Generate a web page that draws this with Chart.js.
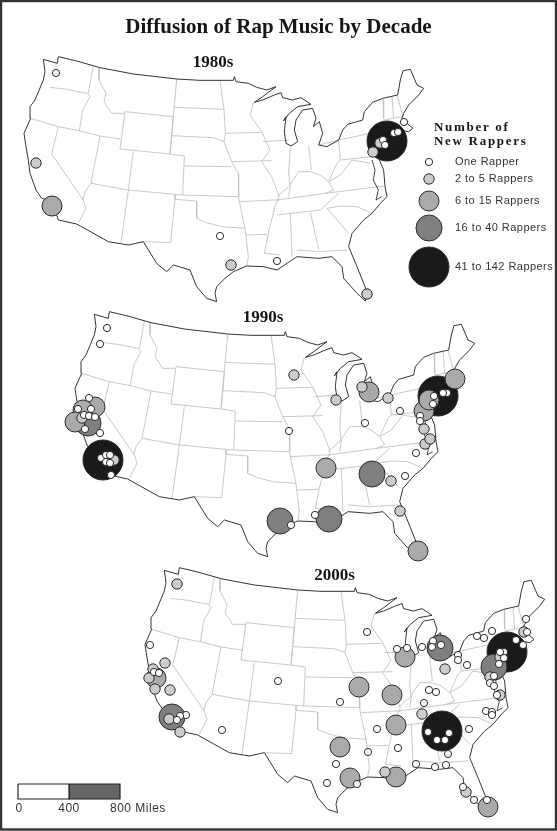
<!DOCTYPE html>
<html><head><meta charset="utf-8">
<style>html,body{margin:0;padding:0;background:#fff}canvas{display:block}</style>
<script src="https://cdn.jsdelivr.net/npm/chart.js@4"></script>
</head><body><canvas id="c" width="557" height="831"></canvas>
<script>
const chartTitle = 'Diffusion of Rap Music by Decade';
const decades = ['1980s','1990s','2000s'];
const classLabels = ['One Rapper','2 to 5 Rappers','6 to 15 Rappers','16 to 40 Rappers','41 to 142 Rappers'];
const classRadius = [3.6,5.2,10,13,20];
const classColor = ['#ffffff','#cccccc','#aaaaaa','#7f7f7f','#1a1a1a'];
const scaleLabels = ['0','400','800 Miles'];

// Map outlines at 3x the 1980s panel
const nationOutline = [[175,170],[230,183],[300,203],[400,222],[530,237],[600,241],[700,241],[703,230],[708,245],[745,250],[770,262],[800,270],[828,260],[788,290],[763,307],[788,300],[823,285],[843,278],[848,293],[878,300],[903,293],[933,313],[893,320],[868,340],[850,363],[858,350],[853,395],[858,430],[873,438],[893,425],[883,390],[888,360],[908,330],[938,325],[948,355],[940,380],[958,365],[968,400],[956,435],[981,440],[1016,420],[1028,390],[1043,373],[1088,360],[1093,335],[1118,307],[1148,295],[1193,285],[1201,240],[1209,212],[1231,208],[1251,255],[1271,265],[1256,285],[1226,315],[1211,340],[1206,355],[1221,370],[1239,385],[1226,395],[1201,390],[1171,410],[1151,425],[1153,455],[1156,480],[1136,475],[1151,510],[1155,560],[1161,590],[1141,610],[1116,640],[1091,660],[1056,700],[1046,740],[1071,800],[1099,870],[1096,903],[1071,880],[1031,835],[1026,800],[996,770],[956,775],[891,770],[861,790],[831,810],[790,800],[740,798],[700,815],[675,835],[650,860],[645,880],[650,905],[620,895],[590,860],[570,810],[520,795],[500,815],[470,790],[430,725],[385,735],[325,725],[230,672],[175,660],[170,645],[160,605],[125,595],[108,570],[90,520],[85,480],[78,440],[72,400],[92,355],[90,320],[105,300],[130,240],[135,215],[130,178],[172,190],[175,170]];
const chesapeake = [[1116,480],[1125,510],[1120,540],[1135,570],[1128,600],[1145,590]];
const stateBorders = [
 [[150,262],[200,268],[262,280],[270,290],[248,330],[238,392]],
 [[280,198],[265,280]],
 [[298,205],[297,240],[318,280],[312,305],[335,340],[373,340]],
 [[92,355],[175,380],[238,392],[300,408],[362,417]],
 [[175,380],[155,462],[250,600],[258,625],[235,670]],
 [[300,408],[273,550],[255,575],[248,600]],
 [[273,550],[385,570],[547,585],[715,590]],
 [[375,335],[360,447],[510,462],[520,350],[375,335]],
 [[530,237],[520,350],[510,462]],
 [[522,322],[670,328]],
 [[515,407],[640,413],[672,425]],
 [[510,462],[553,468],[548,585]],
 [[553,498],[695,500]],
 [[400,455],[385,570],[363,730]],
 [[525,585],[525,598],[512,728],[430,725]],
 [[525,598],[590,603],[590,655],[620,668],[665,680],[735,685]],
 [[660,240],[672,328],[676,400],[672,425],[695,485],[715,520],[716,590],[718,605],[735,685],[745,770],[740,798]],
 [[676,400],[785,397]],
 [[695,485],[815,482]],
 [[718,605],[820,600],[838,600]],
 [[735,705],[800,703]],
 [[760,308],[750,345],[785,395],[810,450],[785,485],[815,530],[838,590],[825,620],[805,700],[793,760],[840,765]],
 [[790,425],[866,420]],
 [[871,440],[866,520],[871,560],[866,590]],
 [[926,437],[934,510]],
 [[831,590],[866,560],[896,515],[931,515],[961,525],[986,545],[1011,490],[1021,480]],
 [[956,435],[1016,420],[1021,480],[1116,470]],
 [[831,600],[976,580],[1151,558]],
 [[986,545],[1001,570],[976,580]],
 [[986,545],[1021,525],[1056,480],[1111,490]],
 [[831,645],[961,630],[1016,580]],
 [[981,625],[1021,618],[1071,620],[1116,640]],
 [[981,625],[1046,700]],
 [[931,635],[956,750]],
 [[891,750],[956,755],[1041,750]],
 [[871,640],[876,770]],
 [[1016,420],[1111,400]],
 [[1149,298],[1151,355]],
 [[1176,290],[1181,355]],
 [[1191,285],[1209,350]],
 [[1151,360],[1206,350]],
 [[1111,400],[1151,395],[1150,425]]
];

// Panel shift in pixels from the 1980s map
const panelShift = [[0,0],[51,255],[121,511]];

// Sites: [x, y, size class] in page pixels
const sites1980 = [[56,73,0],[220,236,0],[277,261,0],[404,122,0],[383,140,0],[385,145,0],[394,133,0],[398,132,0],
 [36,163,1],[231,265,1],[373,152,1],[367,294,1],[380,143,1],
 [52,206,2],[387,141,4]];
const sites1990 = [[107,328,0],[100,344,0],[89,398,0],[100,433,0],[78,409,0],[91,409,0],[84,415,0],[89,416,0],[95,417,0],[85,429,0],
 [101,458,0],[106,455,0],[110,455,0],[106,462,0],[110,463,0],[111,475,0],
 [289,431,0],[365,423,0],[400,411,0],[416,453,0],[405,476,0],[315,515,0],[291,525,0],[447,393,0],[443,393,0],[434,396,0],[433,404,0],[420,416,0],[420,421,0],
 [114,460,1],[82,418,1],[294,375,1],[336,400,1],[362,387,1],[388,398,1],[424,429,1],[425,444,1],[430,439,1],[391,481,1],[400,511,1],
 [95,407,2],[83,410,2],[75,422,2],[369,392,2],[326,468,2],[455,379,2],[424,411,2],[418,551,2],[429,400,2],
 [88,423,3],[372,474,3],[329,519,3],[280,521,3],
 [103,460,4],[438,396,4]];
const sites2000 = [[150,645,0],[154,672,0],[159,673,0],[186,715,0],[180,716,0],[177,720,0],[222,730,0],[278,681,0],
 [367,632,0],[397,649,0],[407,648,0],[422,647,0],[433,641,0],[432,647,0],[441,645,0],[458,655,0],[458,660,0],[467,665,0],[477,636,0],[484,638,0],[492,631,0],[526,619,0],[527,632,0],[516,640,0],[523,645,0],[504,652,0],[500,652,0],[504,658,0],[499,664,0],[494,676,0],[490,683,0],[494,686,0],[497,695,0],[486,711,0],[492,712,0],[492,715,0],[429,690,0],[436,692,0],[424,703,0],[340,702,0],[377,729,0],[428,732,0],[437,740,0],[445,740,0],[449,733,0],[469,729,0],[448,754,0],[398,748,0],[368,752,0],[336,764,0],[327,783,0],[357,784,0],[416,764,0],[435,767,0],[446,765,0],[463,787,0],[474,800,0],[487,800,0],
 [177,584,1],[153,669,1],[165,663,1],[149,678,1],[155,689,1],[170,690,1],[169,719,1],[180,732,1],[445,669,1],[422,714,1],[385,772,1],[466,792,1],[500,695,1],[490,677,1],[524,632,1],[500,657,1],
 [156,678,2],[359,687,2],[392,695,2],[405,657,2],[396,725,2],[340,747,2],[350,778,2],[396,777,2],[488,807,2],
 [172,717,3],[440,648,3],[494,667,3],
 [507,652,4],[442,731,4]];
const legendSites = [[429,162,0],[429,179,1],[429,201,2],[429,228,3],[429,267,4]];

const allSites = [...sites1980,...sites1990,...sites2000,...legendSites];
const toPoint = (p,s)=>({x:p[0]/3+s[0],y:p[1]/3+s[1]});
const lineSet = (pts,color,width,order)=>({type:'scatter',showLine:true,data:pts,borderColor:color,borderWidth:width,pointRadius:0,tension:0,order,clip:false});

const datasets = [];
classLabels.forEach((label,c)=>{
  datasets.push({type:'bubble',label,order:c,clip:false,
    data:allSites.filter(s=>s[2]===c).map(s=>({x:s[0],y:s[1],r:classRadius[c]})),
    backgroundColor:classColor[c],borderColor:'#2a2a2a',borderWidth:1,hoverRadius:0});
});
panelShift.forEach(s=>{
  datasets.push(lineSet(nationOutline.map(p=>toPoint(p,s)),'#333333',1,20));
  datasets.push(lineSet(chesapeake.map(p=>toPoint(p,s)),'#333333',0.9,20));
  stateBorders.forEach(b=>datasets.push(lineSet(b.map(p=>toPoint(p,s)),'#c2c2c2',0.9,30)));
});
// scale bar
const scaleBarMiles=[[18,69],[69,120]], scaleBarColor=['#ffffff','#666666'];
scaleBarMiles.forEach((r,i)=>{
  datasets.push({type:'scatter',showLine:true,fill:'shape',backgroundColor:scaleBarColor[i],borderColor:'#222',borderWidth:1.2,pointRadius:0,order:10,clip:false,
   data:[{x:r[0],y:784},{x:r[1],y:784},{x:r[1],y:799},{x:r[0],y:799},{x:r[0],y:784}]});
});

const decadeLabelPos=[[213,63],[263,318],[334.5,576]];
const legendTitlePos=[['Number of',434,128],['New Rappers',434,142]];
const legendRowX=455, legendRowY=[162,179,201,228,267];
const scaleLabelPos=[[19,'center'],[69,'center'],[110,'left']];

const texts={id:'texts',afterDraw(ch){
  const {ctx,scales:{x,y}}=ch;
  ctx.save();
  ctx.strokeStyle='#333';ctx.lineWidth=2.4;ctx.strokeRect(1,1,555,828.5);
  ctx.fillStyle='#161616';ctx.textBaseline='middle';
  ctx.textAlign='center';ctx.font='bold 17px "Liberation Serif"';
  decades.forEach((d,i)=>ctx.fillText(d,x.getPixelForValue(decadeLabelPos[i][0]),y.getPixelForValue(decadeLabelPos[i][1])));
  ctx.textAlign='left';ctx.font='bold 13px "Liberation Serif"';ctx.letterSpacing='1.7px';
  legendTitlePos.forEach(t=>ctx.fillText(t[0],x.getPixelForValue(t[1]),y.getPixelForValue(t[2])));
  ctx.font='11px "Liberation Sans"';ctx.letterSpacing='0.45px';ctx.fillStyle='#333';
  classLabels.forEach((l,i)=>ctx.fillText(l,x.getPixelForValue(legendRowX),y.getPixelForValue(legendRowY[i])));
  ctx.font='12px "Liberation Sans"';ctx.letterSpacing='0.5px';
  scaleLabels.forEach((l,i)=>{ctx.textAlign=scaleLabelPos[i][1];ctx.fillText(l,x.getPixelForValue(scaleLabelPos[i][0]),y.getPixelForValue(809));});
  ctx.restore();
}};

new Chart(document.getElementById('c'),{
  type:'scatter',
  data:{datasets},
  plugins:[texts],
  options:{responsive:false,animation:false,events:[],
    layout:{padding:0,autoPadding:false},
    plugins:{legend:{display:false},tooltip:{enabled:false},
      title:{display:true,text:chartTitle,color:'#161616',font:{family:'"Liberation Serif"',size:21,weight:'bold',lineHeight:1.2},padding:{top:15,bottom:3.8}}},
    scales:{x:{type:'linear',display:false,min:0,max:557},
            y:{type:'linear',display:false,min:44,max:831,reverse:true}}}
});
</script></body></html>
